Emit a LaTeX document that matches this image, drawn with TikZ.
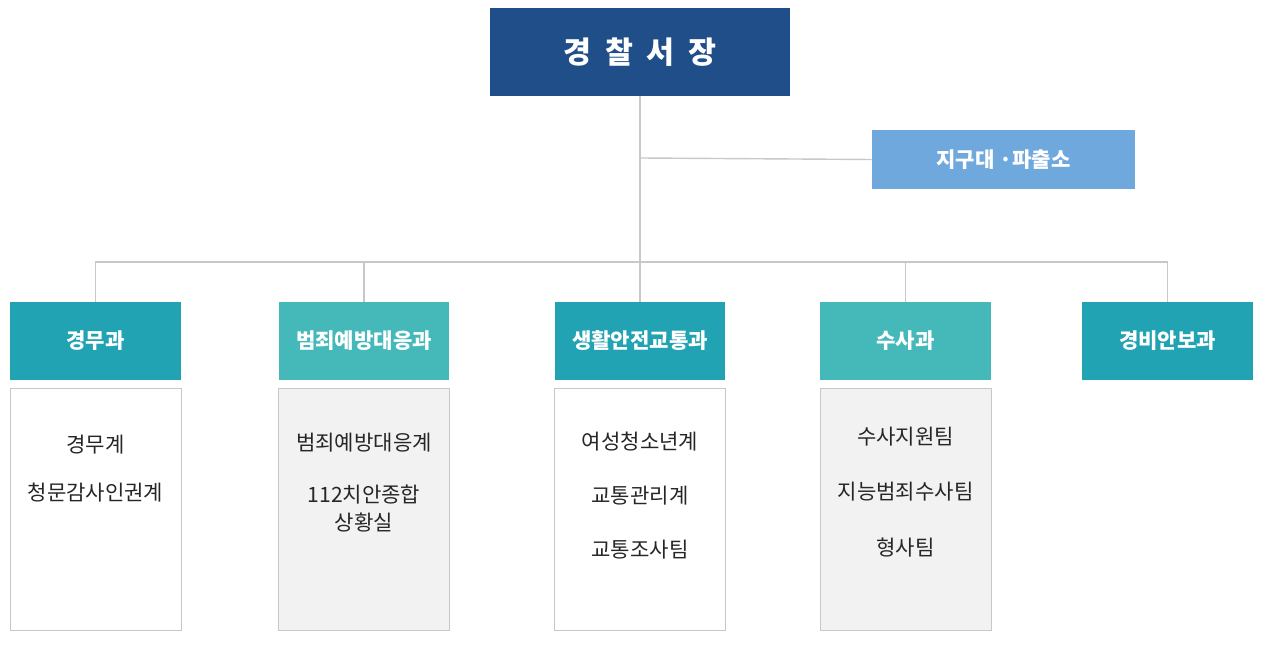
\documentclass[tikz,border=0pt]{standalone}
\usepackage{fontspec}
\setmainfont{Noto Sans CJK KR}
\usetikzlibrary{positioning}
\definecolor{chiefblue}{HTML}{1F4E89}
\definecolor{unitblue}{HTML}{6FA8DC}
\definecolor{deptteal}{HTML}{22A3B3}
\definecolor{deptlight}{HTML}{45B8BA}
\definecolor{listgray}{HTML}{F2F2F2}
\definecolor{linegray}{HTML}{C8C8C8}
\tikzset{
  chief/.style={fill=chiefblue, text=white, font=\bfseries\LARGE, minimum width=6cm, minimum height=1.76cm},
  unit/.style={fill=unitblue, text=white, font=\bfseries\large, minimum width=5.26cm, minimum height=1.18cm},
  dept/.style={fill=deptteal, text=white, font=\bfseries\large, minimum width=3.42cm, minimum height=1.56cm},
  listbox/.style={draw=linegray, minimum width=3.42cm, minimum height=4.84cm},
  item/.style={font=\large, text=black!85},
  link/.style={draw=linegray, line width=0.8pt}
}
\begin{document}
\begin{tikzpicture}[x=0.02cm,y=-0.02cm]
  \useasboundingbox (0,0) rectangle (1267,651);
  \node[chief] (chief) at (640,52) {경\ \ 찰\ \ 서\ \ 장};
  \node[unit] (unit) at (1003.5,159.5) {지구대 ·파출소};
  % departments
  \node[dept] (gm) at (95.5,341) {경무과};
  \node[dept, fill=deptlight] (bj) at (364,341) {범죄예방대응과};
  \node[dept] (ss) at (640,341) {생활안전교통과};
  \node[dept, fill=deptlight] (sa) at (905.5,341) {수사과};
  \node[dept] (gb) at (1167.5,341) {경비안보과};
  % sections
  \node[listbox] (gml) at (95.5,509) {};
  \node[listbox, fill=listgray] (bjl) at (364,509) {};
  \node[listbox] (ssl) at (640,509) {};
  \node[listbox, fill=listgray] (sal) at (905.5,509) {};
  \node[item] at (95.5,445) {경무계};
  \node[item] at (95.5,493) {청문감사인권계};
  \node[item] at (364,443) {범죄예방대응계};
  \node[item] at (364,495) {112치안종합};
  \node[item] at (364,523) {상황실};
  \node[item] at (640,442) {여성청소년계};
  \node[item] at (640,496) {교통관리계};
  \node[item] at (640,550) {교통조사팀};
  \node[item] at (905.5,437) {수사지원팀};
  \node[item] at (905.5,492) {지능범죄수사팀};
  \node[item] at (905.5,548) {형사팀};
  % connectors
  \coordinate (hub) at (640,262);
  \coordinate (tap) at (640,158);
  \draw[link] (chief.south) -- (hub);
  \draw[link] (tap) -- (unit.west);
  \draw[link] (gm.north) |- (hub) -| (gb.north);
  \draw[link] (bj.north) -- (bj.north |- hub);
  \draw[link] (sa.north) -- (sa.north |- hub);
  \draw[link] (ss.north) -- (hub);
\end{tikzpicture}
\end{document}
